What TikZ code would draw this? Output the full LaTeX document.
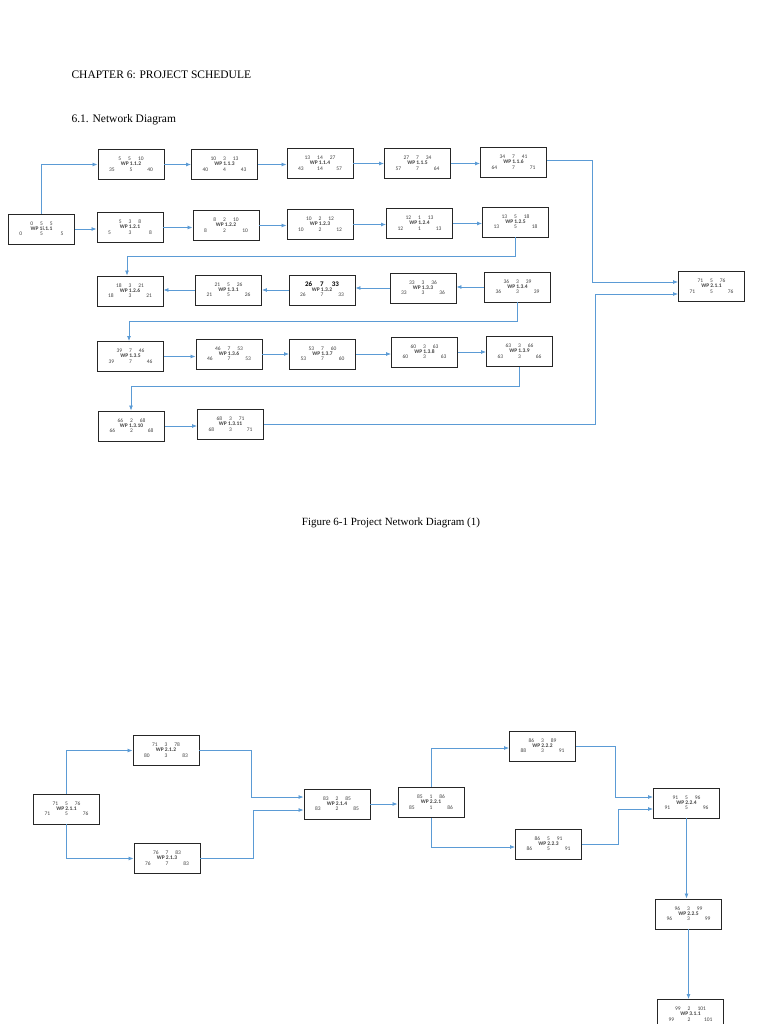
\documentclass[tikz,border=0pt]{standalone}
\usepackage{fontspec}
\setmainfont{Liberation Serif}
\newfontfamily\sansf{Carlito}
\usetikzlibrary{arrows.meta}
\definecolor{cblue}{HTML}{5B9BD5}
\newcommand\wpt[7]{\begin{tabular}{@{}c@{}}#1\hspace{7pt}#2\hspace{7pt}#3\\[-1.2pt]\textbf{#4}\\[-1.2pt]\makebox[44pt]{#5\hfill#6\hfill#7}\end{tabular}}
\begin{document}
\begin{tikzpicture}[x=1pt,y=-1pt,
 wp/.style={draw=black!85,line width=0.9pt,minimum width=66pt,minimum height=30pt,inner sep=0pt,font=\sansf\fontsize{5.5}{6.5}\selectfont,text=black!75,align=center},
 conn/.style={draw=cblue,line width=0.8pt,-{Latex[length=5pt,width=4pt]}},
 title/.style={anchor=west,font=\fontsize{11.5}{13}\selectfont}]
\useasboundingbox (0,0) rectangle (768,1024);
\node[title] (t1) at (68,75) {CHAPTER 6: PROJECT SCHEDULE};
\node[title] (t2) at (68,120) {6.1. Network Diagram};
\node[font=\fontsize{11}{13}\selectfont] (cap) at (391,523) {Figure 6-1 Project Network Diagram (1)};
% row 1
\node[wp] (n111) at (41.5,229) {\wpt{0}{5}{5}{WP 1i.1.1}{0}{5}{5}};
\node[wp] (n112) at (131,164.5) {\wpt{5}{5}{10}{WP 1.1.2}{35}{5}{40}};
\node[wp] (n113) at (224.5,164.5) {\wpt{10}{3}{13}{WP 1.1.3}{40}{4}{43}};
\node[wp] (n114) at (320,163.5) {\wpt{13}{14}{27}{WP 1.1.4}{43}{14}{57}};
\node[wp] (n115) at (417.5,163.5) {\wpt{27}{7}{34}{WP 1.1.5}{57}{7}{64}};
\node[wp] (n116) at (513.5,162.5) {\wpt{34}{7}{41}{WP 1.1.6}{64}{7}{71}};
% row 2
\node[wp] (n121) at (130,227.5) {\wpt{5}{3}{8}{WP 1.2.1}{5}{3}{8}};
\node[wp] (n122) at (226,225.5) {\wpt{8}{2}{10}{WP 1.2.2}{8}{2}{10}};
\node[wp] (n123) at (320,224.5) {\wpt{10}{2}{12}{WP 1.2.3}{10}{2}{12}};
\node[wp] (n124) at (419.5,223.5) {\wpt{12}{1}{13}{WP 1.2.4}{12}{1}{13}};
\node[wp] (n125) at (515.5,222) {\wpt{13}{5}{18}{WP 1.2.5}{13}{5}{18}};
% row 3
\node[wp] (n126) at (130,291) {\wpt{18}{3}{21}{WP 1.2.6}{18}{3}{21}};
\node[wp] (n131) at (228.5,290) {\wpt{21}{5}{26}{WP 1.3.1}{21}{5}{26}};
\node[wp] (n132) at (322,290) {\begin{tabular}{@{}c@{}}{\fontsize{7}{8}\selectfont\bfseries\color{black}26\hspace{8pt}7\hspace{8pt}33}\\[-1.2pt]\textbf{WP 1.3.2}\\[-1.2pt]\makebox[44pt]{26\hfill7\hfill33}\end{tabular}};
\node[wp] (n133) at (423,288) {\wpt{33}{3}{36}{WP 1.3.3}{33}{3}{36}};
\node[wp] (n134) at (517.5,287) {\wpt{36}{3}{39}{WP 1.3.4}{36}{3}{39}};
% row 4
\node[wp] (n135) at (130.5,356.5) {\wpt{39}{7}{46}{WP 1.3.5}{39}{7}{46}};
\node[wp] (n136) at (229,354) {\wpt{46}{7}{53}{WP 1.3.6}{46}{7}{53}};
\node[wp] (n137) at (322.5,354) {\wpt{53}{7}{60}{WP 1.3.7}{53}{7}{60}};
\node[wp] (n138) at (424.5,352) {\wpt{60}{3}{63}{WP 1.3.8}{60}{3}{63}};
\node[wp] (n139) at (519.5,351.5) {\wpt{63}{3}{66}{WP 1.3.9}{63}{3}{66}};
% row 5
\node[wp] (n1310) at (131.5,426) {\wpt{66}{2}{68}{WP 1.3.10}{66}{2}{68}};
\node[wp] (n1311) at (230.5,424.5) {\wpt{68}{3}{71}{WP 1.3.11}{68}{3}{71}};
\node[wp] (n211a) at (711.5,286.5) {\wpt{71}{5}{76}{WP 2.1.1}{71}{5}{76}};
% connectors upper
\draw[conn] (n111.north) |- (n112.west);
\draw[conn] (n111.east) -- (n121.west |- n111.east);
\draw[conn] (n112.east) -- (n113.west |- n112.east);
\draw[conn] (n113.east) -- (n114.west |- n113.east);
\draw[conn] (n114.east) -- (n115.west |- n114.east);
\draw[conn] (n115.east) -- (n116.west |- n115.east);
\draw[conn] (n121.east) -- (n122.west |- n121.east);
\draw[conn] (n122.east) -- (n123.west |- n122.east);
\draw[conn] (n123.east) -- (n124.west |- n123.east);
\draw[conn] (n124.east) -- (n125.west |- n124.east);
\coordinate (k1) at (592,160);
\draw[conn] (n116.east |- k1) -| (592,282) -- ([yshift=4.5pt]n211a.west);
\draw[conn] (n1311.east) -| (595,294) -- ([yshift=-7.5pt]n211a.west);
\coordinate (k2) at (127,256);
\draw[conn] (n125.south) |- (k2) -- (n126.north -| k2);
\draw[conn] (n134.west) -- (n133.east |- n134.west);
\draw[conn] (n133.west) -- (n132.east |- n133.west);
\draw[conn] (n132.west) -- (n131.east |- n132.west);
\draw[conn] (n131.west) -- (n126.east |- n131.west);
\coordinate (k3) at (129,321);
\draw[conn] (n134.south) |- (k3) -- (n135.north -| k3);
\draw[conn] (n135.east) -- (n136.west |- n135.east);
\draw[conn] (n136.east) -- (n137.west |- n136.east);
\draw[conn] (n137.east) -- (n138.west |- n137.east);
\draw[conn] (n138.east) -- (n139.west |- n138.east);
\coordinate (k4) at (131,386);
\draw[conn] (n139.south) |- (k4) -- (n1310.north -| k4);
\draw[conn] (n1310.east) -- (n1311.west |- n1310.east);
% lower diagram
\node[wp] (n211) at (66.5,809) {\wpt{71}{5}{76}{WP 2.1.1}{71}{5}{76}};
\node[wp] (n212) at (166,750.5) {\wpt{71}{3}{78}{WP 2.1.2}{80}{3}{83}};
\node[wp] (n213) at (167,858.5) {\wpt{76}{7}{83}{WP 2.1.3}{76}{7}{83}};
\node[wp] (n214) at (337,804) {\wpt{83}{2}{85}{WP 2.1.4}{83}{2}{85}};
\node[wp] (n221) at (431,802.5) {\wpt{85}{1}{86}{WP 2.2.1}{85}{1}{86}};
\node[wp] (n222) at (542.5,746) {\wpt{86}{3}{89}{WP 2.2.2}{88}{3}{91}};
\node[wp] (n223) at (548.5,844) {\wpt{86}{5}{91}{WP 2.2.3}{86}{5}{91}};
\node[wp] (n224) at (686.5,803) {\wpt{91}{5}{96}{WP 2.2.4}{91}{5}{96}};
\node[wp] (n225) at (688.5,914) {\wpt{96}{3}{99}{WP 2.2.5}{96}{3}{99}};
\node[wp] (n311) at (690.5,1014.5) {\wpt{99}{2}{101}{WP 3.1.1}{99}{2}{101}};
\draw[conn] (n211.north) |- (n212.west);
\draw[conn] (n211.south) |- (n213.west);
\draw[conn] (n212.east) -| (251,797) -- ([yshift=7pt]n214.west);
\draw[conn] (n213.east) -| (253,810) -- ([yshift=-6pt]n214.west);
\draw[conn] (n214.east) -- (n221.west |- n214.east);
\draw[conn] (n221.north) |- ([yshift=-2pt]n222.west);
\draw[conn] (n221.south) |- ([yshift=-3pt]n223.west);
\draw[conn] (n222.east) -| (615,797) -- ([yshift=6pt]n224.west);
\draw[conn] (n223.east) -| (618,809) -- ([yshift=-6pt]n224.west);
\draw[conn] (n224.south) -- (n225.north -| n224.south);
\draw[conn] (n225.south) -- (n311.north -| n225.south);
\end{tikzpicture}
\end{document}
